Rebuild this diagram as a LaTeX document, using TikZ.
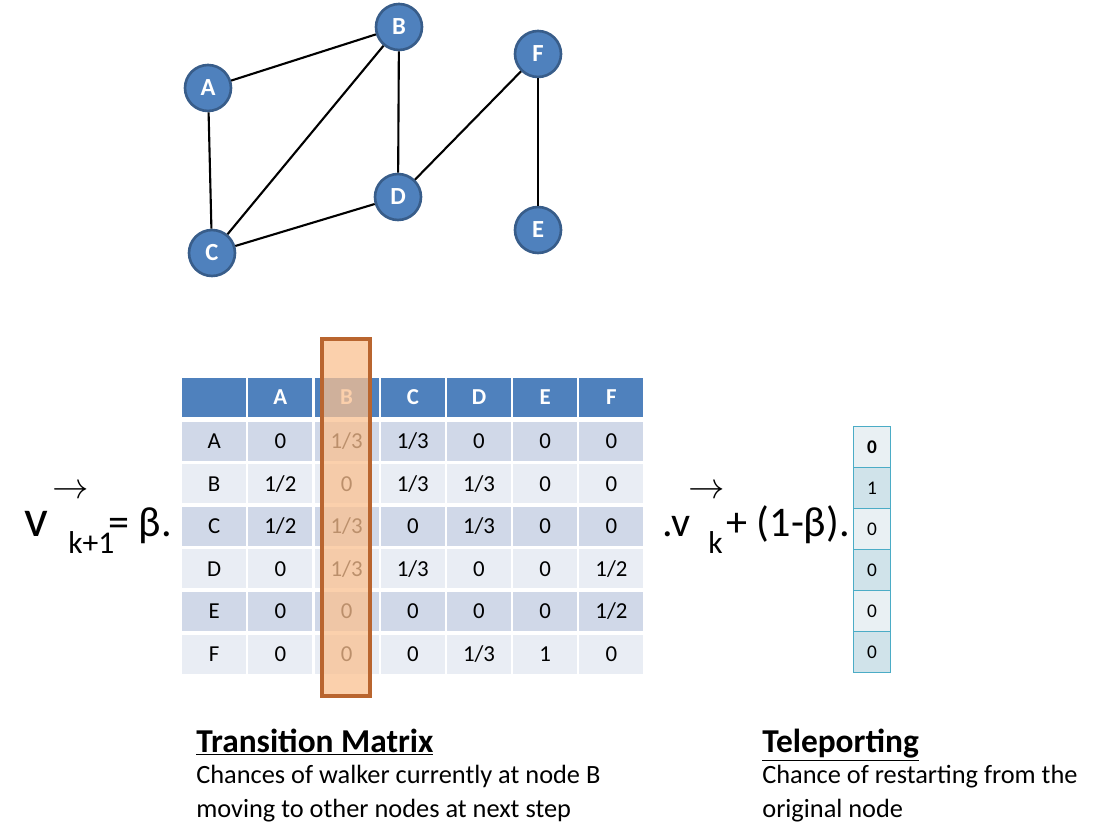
\documentclass[tikz,border=0pt]{standalone}
\usepackage{fontspec}
\setmainfont{Carlito}
\usetikzlibrary{positioning}
\definecolor{nodeblue}{HTML}{4F81BD}
\definecolor{nodeedge}{HTML}{385D8A}
\definecolor{rowdark}{HTML}{D0D8E8}
\definecolor{rowlight}{HTML}{E9EDF4}
\definecolor{hlfill}{HTML}{FAC090}
\definecolor{hledge}{HTML}{B9652F}
\definecolor{vecedge}{HTML}{4BACC6}
\definecolor{veclight}{HTML}{E9F0F3}
\definecolor{vecdark}{HTML}{D0E3EA}
\tikzset{vert/.style={draw=nodeedge,line width=1.5pt,circle,minimum size=0.92cm,inner sep=0pt,fill=nodeblue,text=white,font=\fontsize{14}{14}\selectfont\bfseries}}
\tikzset{ed/.style={line width=1.2pt}}
\tikzset{cell/.style={minimum width=1.28cm,minimum height=0.78cm,inner sep=0pt,font=\fontsize{13}{13}\selectfont}}
\tikzset{vcell/.style={draw=vecedge,line width=1pt,minimum width=0.74cm,minimum height=0.82cm,inner sep=0pt,font=\fontsize{11}{11}\selectfont}}
\begin{document}
\begin{tikzpicture}[x=0.02cm,y=-0.02cm]
\useasboundingbox (0,0) rectangle (1095,837);
% graph
\node[vert] (A) at (208,88) {A};
\node[vert] (B) at (399,27) {B};
\node[vert] (F) at (538,54) {F};
\node[vert] (D) at (398,197) {D};
\node[vert] (C) at (212,253) {C};
\node[vert] (E) at (538,230) {E};
\draw[ed] (A) -- (B);
\draw[ed] (A) -- (C);
\draw[ed] (B) -- (C);
\draw[ed] (B) -- (D);
\draw[ed] (C) -- (D);
\draw[ed] (D) -- (F);
\draw[ed] (F) -- (E);

% transition matrix
\foreach \lab [count=\i] in {,A,B,C,D,E,F}
  \node[cell,fill=nodeblue,text=white,font=\fontsize{13}{13}\selectfont\bfseries] (h\i) at (148+66.2*\i,397.5) {\lab};
\foreach \r/\cells [count=\j] in {
  A/{A,0,1/3,1/3,0,0,0},
  B/{B,1/2,0,1/3,1/3,0,0},
  C/{C,1/2,1/3,0,1/3,0,0},
  D/{D,0,1/3,1/3,0,0,1/2},
  E/{E,0,0,0,0,0,1/2},
  F/{F,0,0,0,1/3,1,0}}{
  \pgfmathsetmacro{\ry}{398.5+42.6*\j}
  \ifodd\j \def\rowcol{rowdark}\else\def\rowcol{rowlight}\fi
  \foreach \v [count=\i] in \cells
    \node[cell,fill=\rowcol] (m\r\i) at (148+66.2*\i,\ry) {\v};
}
\fill[hlfill,opacity=0.75] (322,339) rectangle (370,696);
\draw[hledge,line width=2pt] (322,339) rectangle (370,696);

% formula
\node[anchor=base west,font=\fontsize{30}{30}\selectfont] (vk1) at (18,537) {v};
\node[anchor=base west,font=\fontsize{20}{20}\selectfont] (arr1) at (46,499) {$\rightarrow$};
\node[anchor=base west,font=\fontsize{18}{18}\selectfont,inner sep=0pt] (sub1) at (68,553) {k+1};
\node[anchor=base west,font=\fontsize{24}{24}\selectfont,inner sep=0pt] (beta1) at (108,537) {= β.};
\node[anchor=base west,font=\fontsize{24}{24}\selectfont,inner sep=0pt] (vk) at (662,537) {.v};
\node[anchor=base west,font=\fontsize{20}{20}\selectfont] (arr2) at (682,499) {$\rightarrow$};
\node[anchor=base west,font=\fontsize{18}{18}\selectfont,inner sep=0pt] (sub2) at (708,553) {k};
\node[anchor=base west,font=\fontsize{24}{24}\selectfont,inner sep=0pt] (beta2) at (726,537) {+ (1-β).};

% teleport vector
\foreach \v/\c [count=\i] in {\textbf{0}/veclight,1/vecdark,0/veclight,0/vecdark,0/veclight,0/vecdark}
  \node[vcell,fill=\c] (t\i) at (872,406+41*\i) {\v};

% captions
\node[anchor=base west,inner sep=0pt,font=\fontsize{19}{19}\selectfont\bfseries] (tmt) at (196,752) {\underline{Transition Matrix}};
\node[anchor=north west,inner sep=0pt,align=left,font=\fontsize{15}{19}\selectfont] (tmd) at (196,765) {Chances of walker currently at node B\\moving to other nodes at next step};
\node[anchor=base west,inner sep=0pt,font=\fontsize{19}{19}\selectfont\bfseries] (tpt) at (762,752) {\underline{Teleporting}};
\node[anchor=north west,inner sep=0pt,align=left,font=\fontsize{15}{19}\selectfont] (tpd) at (762,765) {Chance of restarting from the\\original node};
\end{tikzpicture}
\end{document}
